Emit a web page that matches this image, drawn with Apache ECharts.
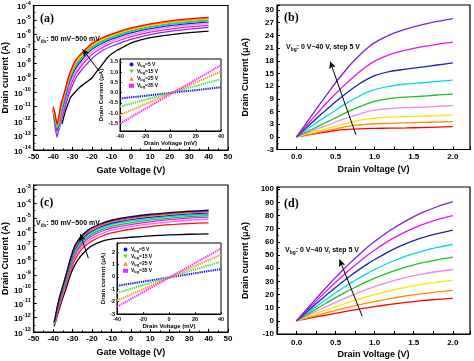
<!DOCTYPE html>
<html><head><meta charset="utf-8">
<script src="https://cdn.jsdelivr.net/npm/echarts@6/dist/echarts.min.js"></script>
<style>html,body{margin:0;padding:0;background:#fff}#c{width:474px;height:361px}</style>
</head><body><div id="c"></div><script>
// ---------- Panel (a): transfer curves, log10 of drain current (A) ----------
const aX = [-40,-39,-38,-37,-36,-35,-34,-32,-30,-28,-25,-22,-20,-15,-10,-5,0,10,20,30,40];
const aLog500 = [-11.0,-11.5,-12.2,-11.6,-10.8,-10.35,-9.9,-8.9,-8.2,-7.7,-7.25,-6.85,-6.62,-6.25,-5.98,-5.75,-5.55,-5.27,-5.07,-4.93,-4.82];
const aLog450 = [-11.05,-11.6,-12.3,-11.8,-11.0,-10.5,-10.0,-9.0,-8.3,-7.8,-7.33,-6.93,-6.7,-6.32,-6.04,-5.81,-5.61,-5.33,-5.13,-4.99,-4.88];
const aLog400 = [-11.1,-11.7,-12.35,-11.9,-11.1,-10.6,-10.1,-9.1,-8.4,-7.9,-7.42,-7.0,-6.77,-6.39,-6.1,-5.87,-5.67,-5.39,-5.18,-5.04,-4.93];
const aLog350 = [-11.1,-11.8,-12.4,-12.0,-11.2,-10.7,-10.2,-9.2,-8.5,-8.0,-7.5,-7.08,-6.85,-6.46,-6.17,-5.94,-5.74,-5.45,-5.24,-5.1,-4.99];
const aLog300 = [-11.15,-11.9,-12.5,-12.2,-11.4,-10.85,-10.35,-9.3,-8.6,-8.1,-7.6,-7.17,-6.93,-6.54,-6.24,-6.01,-5.81,-5.52,-5.31,-5.17,-5.06];
const aLog250 = [-11.2,-12.0,-12.6,-12.3,-11.5,-11.0,-10.5,-9.45,-8.75,-8.25,-7.72,-7.28,-7.03,-6.63,-6.33,-6.1,-5.9,-5.6,-5.39,-5.25,-5.14];
const aLog200 = [-11.2,-12.0,-12.6,-12.5,-11.8,-11.2,-10.7,-9.7,-9.0,-8.45,-7.9,-7.45,-7.2,-6.78,-6.47,-6.23,-6.02,-5.72,-5.5,-5.36,-5.25];
const aLog150 = [-11.25,-12.1,-12.7,-12.6,-12.0,-11.4,-10.9,-9.9,-9.2,-8.65,-8.1,-7.65,-7.38,-6.94,-6.61,-6.37,-6.16,-5.85,-5.63,-5.48,-5.37];
const aLog100 = [-11.3,-12.4,-13.1,-12.5,-12.0,-11.6,-11.1,-10.2,-9.5,-8.95,-8.4,-7.95,-7.65,-7.15,-6.82,-6.57,-6.35,-6.02,-5.79,-5.64,-5.52];
const aX50 = [-35.5,-34.5,-33.5,-32,-31,-28,-26,-24,-21.5,-20,-18,-16,-14,-12,-10,-7,-5,0,5,10,20,30,40];
const aLog50 = [-12.2,-11.7,-11.24,-10.7,-10.35,-9.9,-9.62,-9.42,-9.17,-9.0,-8.65,-8.3,-7.95,-7.6,-7.35,-7.1,-6.95,-6.6,-6.38,-6.22,-6.03,-5.88,-5.77];

// ---------- Panel (c) ----------
const cX = [-39.5,-39,-38,-37,-36,-35,-33,-31,-29,-27,-25,-22,-20,-15,-10,-5,0,10,20,30,40];
const cLog500 = [-12.3,-12.0,-11.3,-10.7,-10.2,-9.75,-8.8,-7.8,-7.0,-6.55,-6.2,-5.85,-5.68,-5.38,-5.17,-5.03,-4.92,-4.75,-4.63,-4.54,-4.47];
const cLog450 = [-12.3,-12.05,-11.35,-10.75,-10.25,-9.8,-8.85,-7.87,-7.07,-6.62,-6.27,-5.92,-5.75,-5.44,-5.23,-5.09,-4.98,-4.81,-4.69,-4.59,-4.52];
const cLog400 = [-12.35,-12.1,-11.4,-10.8,-10.3,-9.85,-8.92,-7.95,-7.15,-6.7,-6.35,-6.0,-5.83,-5.51,-5.3,-5.16,-5.05,-4.88,-4.75,-4.65,-4.58];
const cLog350 = [-12.35,-12.1,-11.45,-10.85,-10.38,-9.92,-9.0,-8.05,-7.25,-6.8,-6.45,-6.09,-5.92,-5.6,-5.38,-5.24,-5.13,-4.96,-4.83,-4.73,-4.66];
const cLog300 = [-12.4,-12.15,-11.5,-10.9,-10.45,-10.0,-9.1,-8.15,-7.36,-6.91,-6.56,-6.2,-6.02,-5.7,-5.48,-5.34,-5.23,-5.05,-4.92,-4.82,-4.75];
const cLog250 = [-12.4,-12.2,-11.55,-11.0,-10.55,-10.1,-9.2,-8.28,-7.5,-7.04,-6.69,-6.32,-6.14,-5.82,-5.6,-5.46,-5.35,-5.16,-5.02,-4.92,-4.85];
const cLog200 = [-12.45,-12.25,-11.6,-11.1,-10.65,-10.2,-9.3,-8.4,-7.63,-7.18,-6.82,-6.45,-6.27,-5.94,-5.72,-5.58,-5.47,-5.28,-5.13,-5.02,-4.95];
const cLog150 = [-12.5,-12.3,-11.7,-11.2,-10.75,-10.32,-9.42,-8.55,-7.8,-7.35,-6.98,-6.6,-6.42,-6.1,-5.87,-5.73,-5.62,-5.43,-5.28,-5.17,-5.1];
const cLog100 = [-12.5,-12.35,-11.8,-11.3,-10.85,-10.45,-9.55,-8.7,-7.98,-7.53,-7.16,-6.8,-6.62,-6.29,-6.06,-5.91,-5.8,-5.62,-5.48,-5.4,-5.35];
const cLog50 = [-12.6,-12.4,-11.9,-11.45,-11.0,-10.6,-9.8,-8.95,-8.35,-7.9,-7.55,-7.15,-6.95,-6.65,-6.5,-6.42,-6.36,-6.27,-6.2,-6.15,-6.12];

// ---------- Panel (b): output curves (µA) ----------
const vdX = [0,0.1,0.2,0.3,0.4,0.5,0.6,0.7,0.8,0.9,1.0,1.2,1.4,1.6,1.8,2.0];
const b40 = [0,2.6,5.2,7.8,10.3,12.8,15.1,17.3,19.2,20.9,22.3,24.2,25.5,26.5,27.3,28.0];
const b35 = [0,2.1,4.2,6.3,8.3,10.2,12.0,13.7,15.3,16.7,17.9,19.5,20.5,21.3,21.9,22.4];
const b30 = [0,1.7,3.4,5.1,6.7,8.3,9.8,11.2,12.5,13.6,14.5,15.5,16.0,16.5,17.0,17.5];
const b25 = [0,1.3,2.6,3.9,5.1,6.3,7.5,8.6,9.6,10.5,11.2,12.0,12.5,12.8,13.1,13.4];
const b20 = [0,0.9,1.8,2.7,3.6,4.5,5.4,6.3,7.1,7.8,8.4,9.1,9.4,9.6,9.9,10.1];
const b15 = [0,0.7,1.4,2.1,2.8,3.5,4.2,4.8,5.4,5.9,6.3,6.7,6.9,7.0,7.2,7.4];
const b10 = [0,0.5,1.0,1.5,2.0,2.5,3.0,3.5,3.9,4.2,4.4,4.7,4.8,4.9,5.0,5.2];
const b5  = [0,0.35,0.7,1.1,1.5,1.9,2.3,2.6,2.8,3.0,3.1,3.2,3.3,3.4,3.5,3.6];
const b0  = [0,0.3,0.6,0.9,1.2,1.5,1.7,1.8,1.9,1.95,2.0,2.05,2.1,2.2,2.3,2.4];

// ---------- Panel (d) ----------
const d40 = [0,6.8,13.5,20.2,26.7,33.0,39.0,44.8,50.3,55.5,60.3,68.8,76.0,82.0,86.7,90.5];
const d35 = [0,6.0,12.0,17.9,23.7,29.3,34.7,39.9,44.8,49.5,53.8,61.5,67.8,73.0,77.0,80.0];
const d30 = [0,5.2,10.4,15.5,20.5,25.4,30.1,34.6,38.9,42.9,46.6,53.2,58.6,63.0,66.3,69.0];
const d25 = [0,4.4,8.7,13.0,17.2,21.3,25.2,29.0,32.6,35.9,39.0,44.5,49.1,52.8,55.8,58.0];
const d20 = [0,3.6,7.2,10.7,14.2,17.6,20.9,24.0,27.0,29.8,32.4,37.0,40.9,44.0,46.4,48.4];
const d15 = [0,2.9,5.8,8.6,11.4,14.1,16.7,19.2,21.6,23.9,26.0,29.8,33.0,35.5,37.5,39.0];
const d10 = [0,2.2,4.4,6.6,8.7,10.8,12.8,14.8,16.6,18.4,20.0,23.0,25.6,27.6,29.4,30.8];
const d5  = [0,1.6,3.2,4.8,6.4,7.9,9.4,10.8,12.2,13.5,14.7,16.9,18.9,20.6,22.0,23.2];
const d0  = [0,1.2,2.4,3.5,4.6,5.7,6.8,7.9,8.9,9.9,10.8,12.5,14.0,15.3,16.3,17.0];

// ---------- Insets (µA vs mV) ----------
const insX = [-40, 40];
const insNames = ['5 V', '15 V', '25 V', '35 V'];
const insA = [[-0.29, 0.26], [-0.68, 0.66], [-1.09, 1.02], [-1.5, 1.34]];
const insC = [[-0.72, 0.64], [-1.3, 1.24], [-1.92, 1.8], [-2.42, 2.3]];

// ---------- Arrows (data coords) ----------
const arrowA = [[-16.3, -8.55], [-24.9, -7.03]];
const arrowB = [[0.76, 0.5], [0.43, 17.8]];
const arrowC = [[-21.9, -7.83], [-26.1, -6.13]];
const arrowD = [[0.84, 3.6], [0.55, 46.6]];

// tick labels
const logTicksA = [-14,-13,-12,-11,-10,-9,-8,-7,-6,-5,-4];
const logTicksC = [-13,-12,-11,-10,-9,-8,-7,-6,-5,-4,-3];

const F = 'Liberation Sans';
const colTransA = {'50':'#000000','100':'#8a2be2','150':'#e020e0','200':'#ff80ff','250':'#1020d0','300':'#00d8e8','350':'#20c020','400':'#ffe000','450':'#ff8c00','500':'#ff0000'};
const colTransC = {'50':'#000000','100':'#ff1010','150':'#ff60ff','200':'#e020e0','250':'#20c020','300':'#00d8e8','350':'#1020d0','400':'#ff8c00','450':'#9020e0','500':'#101010'};
const colOut = ['#ff0000','#ff8c00','#ffe400','#ee88ee','#20c020','#00d8e8','#1a22b0','#ee10ee','#7a22d6'];
const insCol = ['#1010e0','#40e040','#ff9020','#ff20ff'];
const insIcon = ['circle','path://M0,0L10,0L5,9Z','triangle','rect'];

function line(name, xs, ys, color, gi, w) {
  return {type:'line', name, xAxisIndex:gi, yAxisIndex:gi, data: xs.map((x,i)=>[x, ys[i]]),
    symbol:'none', smooth:0.25, lineStyle:{color, width:w||1.3}, itemStyle:{color}, silent:true, z:3};
}
function arrow(pts) {
  return {silent:true, symbol:['none','arrow'], symbolSize:[5,7], animation:false,
    lineStyle:{color:'#000', width:1, type:'solid'}, label:{show:false},
    data:[[{coord:pts[0]},{coord:pts[1]}]]};
}
const series = [];
const aSets = [['50',aX50,aLog50],['100',aX,aLog100],['150',aX,aLog150],['200',aX,aLog200],['250',aX,aLog250],['300',aX,aLog300],['350',aX,aLog350],['400',aX,aLog400],['450',aX,aLog450],['500',aX,aLog500]];
aSets.forEach(s => series.push(line('a'+s[0], s[1], s[2], colTransA[s[0]], 0)));
series[0].markLine = arrow(arrowA);
[b0,b5,b10,b15,b20,b25,b30,b35,b40].forEach((ys,i)=>series.push(line('b'+i, vdX, ys, colOut[i], 1)));
series[series.length-1].markLine = arrow(arrowB);
const cSets = [['50',cLog50],['100',cLog100],['150',cLog150],['200',cLog200],['250',cLog250],['300',cLog300],['350',cLog350],['400',cLog400],['450',cLog450],['500',cLog500]];
cSets.forEach(s => series.push(line('c'+s[0], cX, s[1], colTransC[s[0]], 2)));
series[series.length-1].markLine = arrow(arrowC);
[d0,d5,d10,d15,d20,d25,d30,d35,d40].forEach((ys,i)=>series.push(line('d'+i, vdX, ys, colOut[i], 3)));
series[series.length-1].markLine = arrow(arrowD);
[[insA,4],[insC,5]].forEach(([set,gi])=>{
  set.forEach((ys,i)=>series.push({type:'line', name:insNames[i], xAxisIndex:gi, yAxisIndex:gi,
    data: insX.map((x,k)=>[x, ys[k]]), symbol:'none', silent:true, z:4,
    lineStyle:{color:insCol[i], width:2, type:[1.3,0.9]}, itemStyle:{color:insCol[i]}}));
});

const axLine = {show:true, onZero:false, lineStyle:{color:'#000', width:1.2}};
const tick = {show:true, inside:true, length:3, lineStyle:{color:'#000', width:1}};
const minor = {show:true, splitNumber:2, length:1.8, lineStyle:{color:'#000', width:0.8}};
const lab = {fontSize:8, fontWeight:'bold', color:'#000', fontFamily:F, margin:3};
const nameSt = {fontSize:9, fontWeight:'bold', color:'#000', fontFamily:F};
const expLab = Object.assign({}, lab, {
  formatter: v => Number.isInteger(v) ? '{b|10}{s|' + v + '}' : '',
  rich:{b:{fontSize:8, fontWeight:'bold', color:'#000', fontFamily:F, lineHeight:11, verticalAlign:'bottom'},
        s:{fontSize:5.5, fontWeight:'bold', color:'#000', fontFamily:F, verticalAlign:'top'}}
});
function stepFmt(step, dec) {
  return v => (Math.abs(v/step - Math.round(v/step)) < 1e-6) ? (dec ? v.toFixed(dec) : String(Math.round(v))) : '';
}
const insLab = {fontSize:5.5, fontWeight:'bold', color:'#000', fontFamily:F, margin:2};
const insName = {fontSize:6, fontWeight:'bold', color:'#000', fontFamily:F};
const insTick = {show:true, inside:true, length:2, lineStyle:{color:'#000', width:0.8}};
const insLine = {show:true, onZero:false, lineStyle:{color:'#000', width:1}};

const grids = [
  {left:32, top:5, width:196, height:145},
  {left:277, top:5, width:193, height:144.5},
  {left:32, top:185, width:196, height:147},
  {left:277, top:187, width:193, height:147},
  {left:120, top:59, width:101, height:72, backgroundColor:'#fff'},
  {left:117, top:243, width:104, height:71, backgroundColor:'#fff'}
].map(g => Object.assign({show:true, borderColor:'#000', borderWidth:1.2, backgroundColor:'transparent', containLabel:false}, g));
grids[4].borderWidth = 1; grids[5].borderWidth = 1;

const xAxis = [
  {gridIndex:0, type:'value', min:-50, max:50, interval:10, axisLine:axLine, axisTick:tick, minorTick:minor, splitLine:{show:false},
   axisLabel:lab, name:'Gate Voltage (V)', nameLocation:'middle', nameGap:16, nameTextStyle:nameSt},
  {gridIndex:1, type:'value', min:-0.25, max:2.22, interval:0.25, axisLine:axLine, axisTick:tick, splitLine:{show:false},
   axisLabel:Object.assign({}, lab, {formatter: stepFmt(0.5, 1)}), name:'Drain Voltage (V)', nameLocation:'middle', nameGap:16, nameTextStyle:nameSt},
  {gridIndex:2, type:'value', min:-50, max:50, interval:10, axisLine:axLine, axisTick:tick, minorTick:minor, splitLine:{show:false},
   axisLabel:lab, name:'Gate Voltage (V)', nameLocation:'middle', nameGap:16, nameTextStyle:nameSt},
  {gridIndex:3, type:'value', min:-0.25, max:2.22, interval:0.25, axisLine:axLine, axisTick:tick, splitLine:{show:false},
   axisLabel:Object.assign({}, lab, {formatter: stepFmt(0.5, 1), margin:5}), name:'Drain Voltage (V)', nameLocation:'middle', nameGap:16, nameTextStyle:nameSt},
  {gridIndex:4, type:'value', min:-40, max:40, interval:20, axisLine:insLine, axisTick:insTick, splitLine:{show:false},
   axisLabel:insLab, name:'Drain Voltage (mV)', nameLocation:'middle', nameGap:8, nameTextStyle:insName},
  {gridIndex:5, type:'value', min:-40, max:40, interval:20, axisLine:insLine, axisTick:insTick, splitLine:{show:false},
   axisLabel:insLab, name:'Drain Voltage (mV)', nameLocation:'middle', nameGap:8, nameTextStyle:insName}
];
const yAxis = [
  {gridIndex:0, type:'value', min:-14, max:-4, interval:1, axisLine:axLine, axisTick:tick, minorTick:minor, splitLine:{show:false},
   axisLabel:expLab, name:'Drain current (A)', nameLocation:'middle', nameGap:19, nameTextStyle:nameSt},
  {gridIndex:1, type:'value', min:-3, max:31.2, interval:3, axisLine:axLine, axisTick:tick, minorTick:minor, splitLine:{show:false},
   axisLabel:Object.assign({}, lab, {formatter: stepFmt(3, 0)}), name:'Drain Current (μA)', nameLocation:'middle', nameGap:27, nameTextStyle:nameSt},
  {gridIndex:2, type:'value', min:-13, max:-2.7, interval:1, axisLine:axLine, axisTick:tick, minorTick:minor, splitLine:{show:false},
   axisLabel:expLab, name:'Drain Current (A)', nameLocation:'middle', nameGap:19, nameTextStyle:nameSt},
  {gridIndex:3, type:'value', min:-10, max:101.7, interval:10, axisLine:axLine, axisTick:tick, minorTick:minor, splitLine:{show:false},
   axisLabel:Object.assign({}, lab, {formatter: stepFmt(10, 0)}), name:'Drain current (μA)', nameLocation:'middle', nameGap:27, nameTextStyle:nameSt},
  {gridIndex:4, type:'value', min:-1.87, max:1.64, axisLine:insLine, axisTick:Object.assign({}, insTick, {customValues:[-1.5,-1,-0.5,0,0.5,1,1.5]}), splitLine:{show:false},
   axisLabel:Object.assign({}, insLab, {customValues:[-1.5,-1,-0.5,0,0.5,1,1.5], formatter: v => v.toFixed(1)}), name:'Drain Current (μA)', nameLocation:'middle', nameGap:12, nameTextStyle:insName},
  {gridIndex:5, type:'value', min:-3, max:2.75, interval:1, axisLine:insLine, axisTick:insTick, splitLine:{show:false},
   axisLabel:Object.assign({}, insLab, {formatter: stepFmt(1, 0)}), name:'Drain current (μA)', nameLocation:'middle', nameGap:8, nameTextStyle:insName}
];

function insLegend(left, top) {
  return {left, top, orient:'vertical', itemWidth:5, itemHeight:4, itemGap:1.6, padding:0, selectedMode:false,
    data: insNames.map((n,i)=>({name:n, icon:insIcon[i], itemStyle:{color:insCol[i]}})),
    formatter: n => '{v|V}{s|bg}{v|=' + n + '}',
    textStyle:{fontSize:5, fontWeight:'bold', color:'#000', fontFamily:F, padding:[0,0,0,-2],
      rich:{v:{fontSize:5, fontWeight:'bold', fontFamily:F, lineHeight:6}, s:{fontSize:3.8, fontWeight:'bold', fontFamily:F, verticalAlign:'bottom'}}}};
}
function txt(x, y, parts, size) {
  return {type:'text', x, y, silent:true, z:10, style:{
    text: parts, fill:'#000', verticalAlign:'middle',
    rich:{v:{fontSize:size, fontWeight:'bold', fontFamily:F, lineHeight:size+3, verticalAlign:'middle'},
          s:{fontSize:size*0.7, fontWeight:'bold', fontFamily:F, verticalAlign:'bottom'}}}};
}
function panelLabel(x, y, t) {
  return {type:'text', x, y, silent:true, z:10, style:{text:t, fill:'#000', verticalAlign:'middle',
    font:'bold 12px "Liberation Serif"'}};
}

const option = {
  animation:false,
  textStyle:{fontFamily:F},
  grid: grids, xAxis, yAxis,
  legend: [insLegend(129, 62), insLegend(123, 247)],
  series,
  graphic: [
    panelLabel(40, 19, '(a)'), panelLabel(284, 18, '(b)'), panelLabel(40, 203, '(c)'), panelLabel(284, 204, '(d)'),
    txt(36, 39, '{v|V}{s|ds}{v|: 50 mV~500 mV}', 7),
    txt(36, 223, '{v|V}{s|ds}{v|: 50 mV~500 mV}', 7),
    txt(286, 47, '{v|V}{s|bg}{v|: 0 V~40 V, step 5 V}', 7),
    txt(285, 250, '{v|V}{s|bg}{v|: 0 V~40 V, step 5 V}', 7)
  ]
};
const chart = echarts.init(document.getElementById('c'), null, {renderer:'canvas'});
chart.setOption(option);
</script></body></html>
